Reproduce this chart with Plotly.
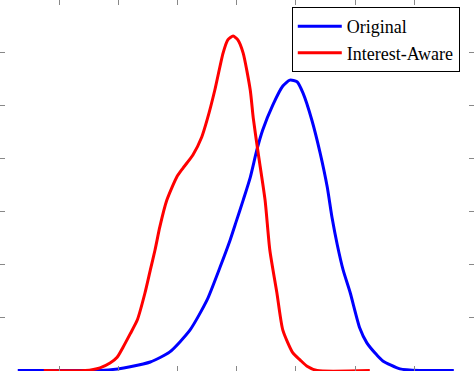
import plotly.graph_objects as go

# Original distribution
orig_x = [0.30, 1.01, 1.69, 1.99, 2.20, 2.54, 2.87, 3.21, 3.50, 3.72,
          3.89, 3.99, 4.11, 4.23, 4.34, 4.44, 4.61, 4.78, 4.90, 5.02,
          5.12, 5.27, 5.41, 5.53, 5.61, 5.70, 5.80, 5.92, 6.08, 6.20,
          6.37, 6.47, 6.76, 7.10, 7.67]
orig_y = [0, 0, 0, 0.03, 0.07, 0.16, 0.35, 0.76, 1.33, 1.95,
          2.46, 2.80, 3.21, 3.64, 4.15, 4.53, 5.00, 5.36, 5.47, 5.44,
          5.23, 4.72, 4.10, 3.46, 2.89, 2.37, 1.89, 1.46, 0.80, 0.52,
          0.29, 0.18, 0.03, 0, 0]

# Interest-Aware distribution
ia_x = [0.74, 1.44, 1.69, 1.86, 1.98, 2.08, 2.20, 2.32, 2.45, 2.54,
        2.62, 2.70, 2.82, 2.99, 3.09, 3.26, 3.41, 3.50, 3.63, 3.77,
        3.85, 3.94, 4.02, 4.11, 4.23, 4.28, 4.36, 4.48, 4.56, 4.68,
        4.78, 4.95, 5.07, 5.19, 5.36, 6.25]
ia_y = [0, 0, 0.05, 0.14, 0.25, 0.44, 0.69, 0.95, 1.46, 1.89,
        2.27, 2.70, 3.21, 3.65, 3.81, 4.06, 4.40, 4.72, 5.28, 5.98,
        6.23, 6.30, 6.23, 5.98, 5.28, 4.76, 4.12, 3.21, 2.27, 1.46,
        0.76, 0.33, 0.20, 0.08, 0, 0]

names = ["Original", "Interest-Aware"]
colors = ["#0000FF", "#FF0000"]
x_ticks = [1, 2, 3, 4, 5, 6, 7]
y_ticks = [0, 1, 2, 3, 4, 5, 6]

fig = go.Figure()
for xs, ys, nm, col in [(orig_x, orig_y, names[0], colors[0]),
                        (ia_x, ia_y, names[1], colors[1])]:
    fig.add_trace(go.Scatter(x=xs, y=ys, mode="lines", name=nm,
                             line=dict(color=col, width=3, shape="spline", smoothing=0.6)))

axis_common = dict(showgrid=False, zeroline=False, showline=False,
                   ticks="inside", ticklen=5, tickwidth=1, tickcolor="#888888",
                   mirror="ticks", showticklabels=False)
fig.update_xaxes(range=[0, 8.011], tickvals=x_ticks, **axis_common)
fig.update_yaxes(range=[-0.0094, 6.98], tickvals=y_ticks, **axis_common)

fig.update_layout(
    width=474, height=372,
    margin=dict(l=0, r=0, t=0, b=1),
    plot_bgcolor="white", paper_bgcolor="white",
    legend=dict(x=0.97, xanchor="right", y=0.981, yanchor="top",
                bgcolor="white", bordercolor="#000000", borderwidth=1,
                itemwidth=44,
                font=dict(family="Liberation Serif", size=18, color="black")),
)
fig.write_html("out.html", config={"displayModeBar": False},
               post_script="document.body.style.margin='0px';document.body.style.overflow='hidden';")
